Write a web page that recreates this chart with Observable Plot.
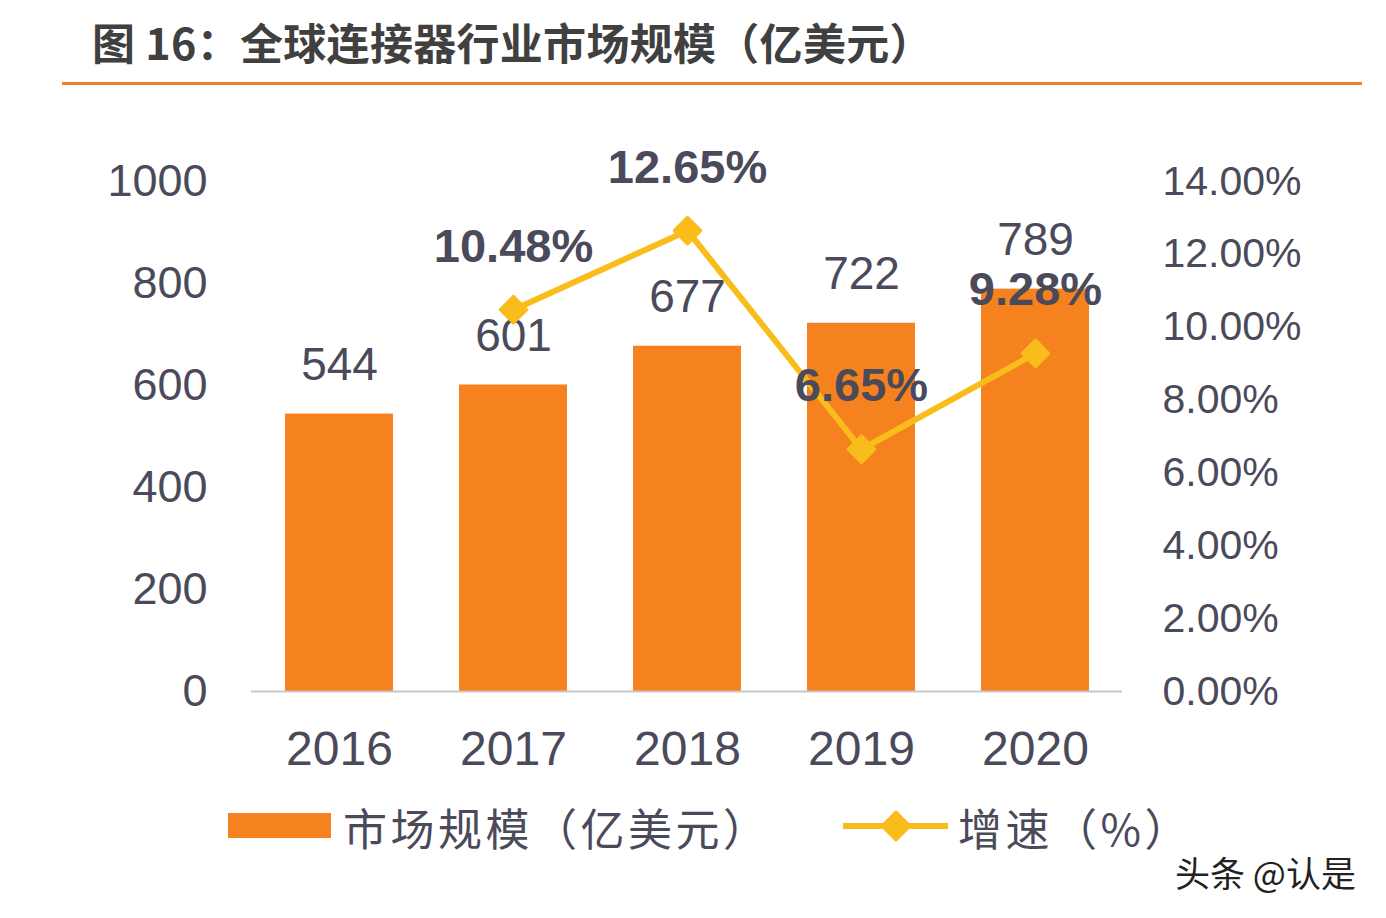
<!DOCTYPE html>
<html>
<head>
<meta charset="utf-8">
<script src="https://cdn.jsdelivr.net/npm/d3@7"></script>
<script src="https://cdn.jsdelivr.net/npm/@observablehq/plot@0.6"></script>
<style>
  html, body { margin: 0; padding: 0; background: #ffffff; }
  #wrap { position: relative; width: 1386px; height: 918px; overflow: hidden; background: #fff; font-family: "Liberation Sans", Arial, "Noto Sans CJK SC", sans-serif; }
  #chart { position: absolute; left: 0; top: 0; }
  .abs { position: absolute; white-space: nowrap; }
  #title { left: 92px; top: 14px; font-family: "Noto Sans CJK SC", sans-serif; font-weight: 700; font-size: 43px; line-height: 54px; color: #404040; letter-spacing: 0.3px; }
  #rule { left: 62px; top: 82px; width: 1300px; height: 3px; background: #EE7F2D; }
  .legtext { font-family: "Noto Sans CJK SC", sans-serif; font-size: 44px; line-height: 50px; color: #4a4a5a; font-weight: 400; letter-spacing: 3.5px; }
  #wm { left: 1175px; top: 850px; font-family: "Noto Sans CJK SC", sans-serif; font-size: 35px; line-height: 44px; color: #222; }
</style>
</head>
<body>
<div id="wrap">
  <div id="chart"></div>
  <div id="title" class="abs">图 16：全球连接器行业市场规模（亿美元）</div>
  <div id="rule" class="abs"></div>
  <div class="abs" style="left:228px;top:813px;width:103px;height:25px;background:#F5821F;"></div>
  <div class="abs legtext" style="left:343px;top:802px;">市场规模（亿美元）</div>
  <svg class="abs" style="left:840px;top:800px;" width="112" height="52">
    <line x1="3" y1="26" x2="108" y2="26" stroke="#F8BD1A" stroke-width="6"/>
    <path d="M56 12 L70 26 L56 40 L42 26 Z" fill="#F8BD1A" stroke="#F8BD1A" stroke-width="3" stroke-linejoin="round"/>
  </svg>
  <div class="abs legtext" style="left:958px;top:802px;">增速（%）</div>
  <div id="wm" class="abs">头条 @认是</div>
</div>
<script>
const years = ["2016", "2017", "2018", "2019", "2020"];
const market = [544, 601, 677, 722, 789];
const growthYears = ["2017", "2018", "2019", "2020"];
const growth = [10.48, 12.65, 6.65, 9.28];
const leftTicks = [0, 200, 400, 600, 800, 1000];
const rightTicks = [0, 2, 4, 6, 8, 10, 12, 14];
const rightMax = 14;
const leftMax = 1000;

const bars = years.map((y, i) => ({year: y, value: market[i]}));
const toLeft = g => g / rightMax * leftMax;
const pts = growthYears.map((y, i) => ({year: y, g: growth[i], yv: toLeft(growth[i])}));

const textColor = "#4a4a5a";
const chart = Plot.plot({
  width: 1386,
  height: 918,
  marginTop: 181,
  marginBottom: 227,
  marginLeft: 251,
  marginRight: 264,
  style: {color: textColor, fontFamily: "'Liberation Sans', Arial, sans-serif", background: "transparent", overflow: "visible"},
  x: {domain: years, paddingInner: 0.38, paddingOuter: 0.19},
  y: {domain: [0, leftMax]},
  marks: [
    Plot.barY(bars, {x: "year", y: "value", fill: "#F5821F"}),
    Plot.ruleY([0], {stroke: "#c8c8c8", strokeWidth: 2}),
    Plot.axisY({anchor: "left", ticks: leftTicks, tickFormat: d => String(d), tickSize: 0, tickPadding: 44, fontSize: 45, label: null}),
    Plot.axisY({anchor: "right", ticks: rightTicks.map(toLeft), tickFormat: d => (d / leftMax * rightMax).toFixed(2) + "%", tickSize: 0, tickPadding: 40, fontSize: 41, label: null}),
    Plot.axisX({anchor: "bottom", tickSize: 0, tickPadding: 39, fontSize: 48, label: null}),
    Plot.text(bars, {x: "year", y: "value", text: d => String(d.value), dy: -49, fontSize: 46, fill: textColor}),
    Plot.line(pts, {x: "year", y: "yv", stroke: "#F8BD1A", strokeWidth: 6}),
    Plot.dot(pts, {x: "year", y: "yv", symbol: "diamond2", r: 12, fill: "#F8BD1A", stroke: "#F8BD1A", strokeWidth: 3, strokeLinejoin: "round"}),
    Plot.text(pts, {x: "year", y: "yv", text: d => d.g.toFixed(2) + "%", dy: -63, fontSize: 47, fontWeight: "bold", fill: textColor})
  ]
});
document.getElementById("chart").appendChild(chart);
</script>
</body>
</html>
